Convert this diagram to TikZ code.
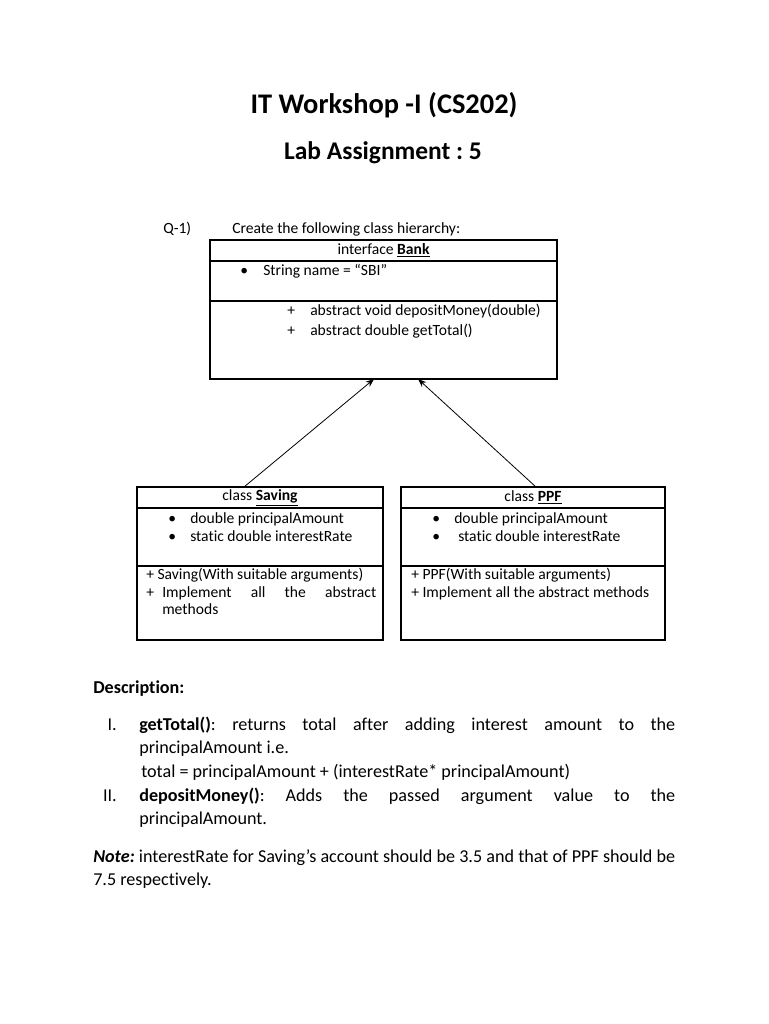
\documentclass[tikz,border=0pt]{standalone}
\usepackage{fontspec}
\setmainfont{Carlito}[Ligatures=NoCommon]
\usetikzlibrary{arrows.meta,positioning}
\frenchspacing
\tikzset{
  part/.style={
    draw=black, line width=0.8pt, outer sep=0pt, inner sep=0pt,
    anchor=north west, minimum width=#1
  },
  lbl/.style={anchor=base west, inner sep=0pt, font=\fontsize{11.7}{14}\selectfont},
  desc/.style={anchor=base west, inner sep=0pt, font=\fontsize{13.6}{16}\selectfont},
  descr/.style={anchor=base east, inner sep=0pt, font=\fontsize{13.6}{16}\selectfont},
  heading/.style={inner sep=0pt, font=\fontsize{#1}{24}\selectfont\bfseries},
  inherit/.style={-{Stealth[length=2.2mm,width=1.7mm]}, line width=0.6pt}
}
\newcommand{\jline}[2]{\makebox[#1][s]{#2}}

\begin{document}
\begin{tikzpicture}[x=0.75pt,y=-0.75pt,node distance=0pt,
    every node/.append style={font=\fontsize{11.7}{14}\selectfont}]
  \useasboundingbox[fill=white] (0,0) rectangle (768,1024);

  % titles
  \node[heading=21.3] (title) at (384,105) {IT Workshop -I (CS202)};
  \node[heading=19.1] (lab) at (383,153) {Lab Assignment : 5};
  \node[lbl] (qno) at (163,233) {Q-1)};
  \node[lbl] (task) at (232,233) {Create the following class hierarchy:};

  % interface Bank
  \node[part=260.25pt, minimum height=15.75pt] (bankhead) at (210,240)
    {interface \underline{\textbf{Bank}}};
  \node[part=260.25pt, minimum height=30pt, below=of bankhead] (bankattr) {};
  \node[part=260.25pt, minimum height=58.5pt, below=of bankattr] (bankops) {};
  \node[lbl] (bankb1) at (240,275) {•};
  \node[lbl] (bankf1) at (263,275) {String name = “SBI”};
  \node[lbl] (bankp1) at (287,315) {+};
  \node[lbl] (bankm1) at (310,315) {abstract void depositMoney(double)};
  \node[lbl] (bankp2) at (287,335) {+};
  \node[lbl] (bankm2) at (310,335) {abstract double getTotal()};

  % class Saving
  \node[part=184.5pt, minimum height=15.75pt] (savhead) at (137,487)
    {class \underline{\textbf{Saving}}};
  \node[part=184.5pt, minimum height=43.5pt, below=of savhead] (savattr) {};
  \node[part=184.5pt, minimum height=55.5pt, below=of savattr] (savops) {};
  \node[lbl] (savb1) at (168,523) {•};
  \node[lbl] (savf1) at (190,523) {double principalAmount};
  \node[lbl] (savb2) at (168,541) {•};
  \node[lbl] (savf2) at (190,541) {static double interestRate};
  \node[lbl] (savm1) at (146,579) {+ Saving(With suitable arguments)};
  \node[lbl] (savp2) at (146,597) {+};
  \node[lbl] (savm2) at (162,597) {\jline{160.5pt}{Implement all the abstract}};
  \node[lbl] (savm3) at (162,614) {methods};

  % class PPF
  \node[part=198pt, minimum height=15.75pt] (ppfhead) at (401,487)
    {class \underline{\textbf{PPF}}};
  \node[part=198pt, minimum height=43.5pt, below=of ppfhead] (ppfattr) {};
  \node[part=198pt, minimum height=55.5pt, below=of ppfattr] (ppfops) {};
  \node[lbl] (ppfb1) at (432,523) {•};
  \node[lbl] (ppff1) at (454,523) {double principalAmount};
  \node[lbl] (ppfb2) at (432,541) {•};
  \node[lbl] (ppff2) at (458,541) {static double interestRate};
  \node[lbl] (ppfm1) at (411,579) {+ PPF(With suitable arguments)};
  \node[lbl] (ppfm2) at (411,597) {+ Implement all the abstract methods};

  % inheritance
  \draw[inherit] ([xshift=-12pt]savhead.north) -- ([xshift=-7.1pt]bankops.south);
  \draw[inherit] ([xshift=2.25pt]ppfhead.north) -- ([xshift=25.9pt]bankops.south);

  % description
  \node[desc,font=\fontsize{13.6}{16}\selectfont\bfseries] (desctitle) at (93,693) {Description:};
  \node[descr] (num1) at (117,730) {I.};
  \node[desc] (d1a) at (139,730)
    {\jline{402pt}{\textbf{getTotal()}: returns total after adding interest amount to the}};
  \node[desc] (d1b) at (139,753) {principalAmount i.e.};
  \node[desc] (d1c) at (141,777) {total = principalAmount + (interestRate* principalAmount)};
  \node[descr] (num2) at (117,801) {II.};
  \node[desc] (d2a) at (139,801)
    {\jline{402pt}{\textbf{depositMoney()}: Adds the passed argument value to the}};
  \node[desc] (d2b) at (139,824) {principalAmount.};
  \node[desc] (note1) at (93,862)
    {\jline{436.5pt}{\textbf{\textit{Note:}} interestRate for Saving’s account should be 3.5 and that of PPF should be}};
  \node[desc] (note2) at (93,885) {7.5 respectively.};
\end{tikzpicture}
\end{document}
